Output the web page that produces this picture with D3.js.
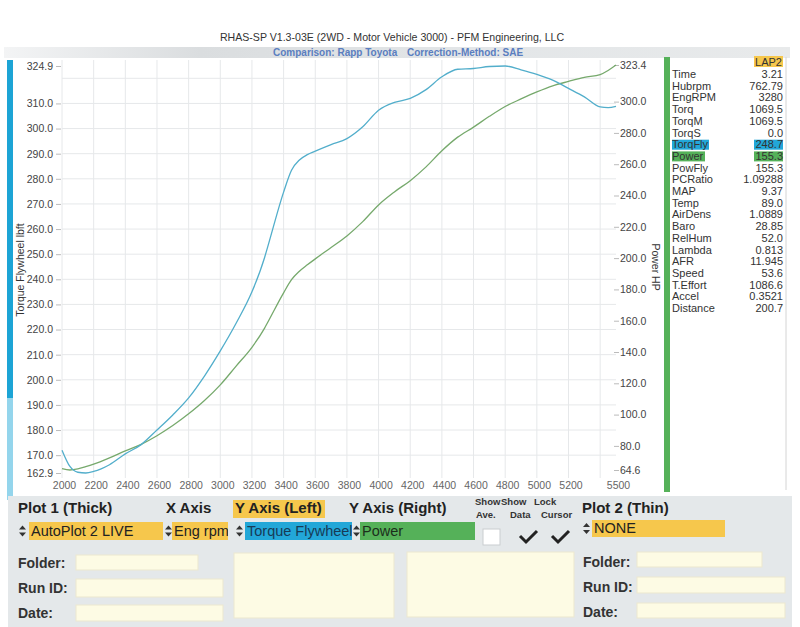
<!DOCTYPE html>
<html><head><meta charset="utf-8">
<script src="https://cdn.jsdelivr.net/npm/d3@7"></script>
<style>
body{margin:0;background:#fff;}
svg{display:block;font-family:"Liberation Sans",Arial,sans-serif;}
</style>
</head><body>
<svg id="c" width="800" height="627"></svg>
<script>
// ---- data ----
const rpm    = [2000,2050,2100,2150,2200,2300,2400,2500,2600,2700,2800,2900,3000,3100,3200,3280,3300,3400,3450,3500,3550,3600,3700,3800,3900,4000,4100,4200,4300,4400,4500,4600,4700,4800,4900,5000,5100,5200,5300,5400,5450,5500];
const torque = [172.0,165.5,163.2,162.9,163.5,166.2,170.5,174.2,180.0,186.0,192.8,201.5,211.5,222.5,235.0,248.7,253.0,274.7,283.4,287.5,289.6,291.0,293.6,296.0,300.7,307.3,310.4,312.0,315.5,320.6,323.6,323.9,324.7,324.9,323.4,321.6,319.3,316.0,312.6,308.6,308.3,308.8];
const power  = [65.5,64.6,65.3,66.7,68.3,72.3,76.8,81.0,86.5,93.0,100.5,109.0,119.0,131.0,143.0,155.3,159.0,177.8,186.2,191.6,195.7,199.5,206.8,214.2,223.3,234.0,242.3,249.5,258.3,268.6,277.3,283.7,290.6,296.9,301.7,306.2,310.1,312.9,315.5,317.3,319.9,323.4];
const xTicks     = [2000,2200,2400,2600,2800,3000,3200,3400,3600,3800,4000,4200,4400,4600,4800,5000,5200,5500];
const xGrid      = [2000,2200,2400,2600,2800,3000,3200,3400,3600,3800,4000,4200,4400,4600,4800,5000,5200,5400];
const leftTicks  = [162.9,170,180,190,200,210,220,230,240,250,260,270,280,290,300,310,324.9];
const leftGrid   = [170,180,190,200,210,220,230,240,250,260,270,280,290,300,310,320];
const rightTicks = [64.6,80,100,120,140,160,180,200,220,240,260,280,300,323.4];
const panelLabels = ["Time","Hubrpm","EngRPM","Torq","TorqM","TorqS","TorqFly","Power","PowFly","PCRatio","MAP","Temp","AirDens","Baro","RelHum","Lambda","AFR","Speed","T.Effort","Accel","Distance"];
const panelValues = ["3.21","762.79","3280","1069.5","1069.5","0.0","248.7","155.3","155.3","1.09288","9.37","89.0","1.0889","28.85","52.0","0.813","11.945","53.6","1086.6","0.3521","200.7"];

const svg = d3.select("#c");
const BLUE="#22a7d8", GREEN="#55b159", YEL="#f6c74c";

// scales
const x  = d3.scaleLinear().domain([2000,5500]).range([62,616]);
const yL = d3.scaleLinear().domain([162.9,324.9]).range([473,66]);
const yR = d3.scaleLinear().domain([64.6,323.4]).range([470,65]);

// header band
const defs = svg.append("defs");
const g1 = defs.append("linearGradient").attr("id","band");
g1.append("stop").attr("offset","0").attr("stop-color","#f3f4f5");
g1.append("stop").attr("offset","0.25").attr("stop-color","#dadddf");
g1.append("stop").attr("offset","0.6").attr("stop-color","#e3e6e8");
g1.append("stop").attr("offset","1").attr("stop-color","#e8eaeb");
svg.append("rect").attr("x",4).attr("y",47).attr("width",786).attr("height",11).attr("fill","url(#band)");

svg.append("text").attr("x",392).attr("y",41).attr("text-anchor","middle")
  .attr("font-size","10.6px").attr("fill","#333")
  .text("RHAS-SP V1.3-03E  (2WD - Motor Vehicle 3000) - PFM Engineering, LLC");
svg.append("text").attr("x",273).attr("y",55.5).attr("font-size","10px").attr("font-weight","bold").attr("fill","#5a7ec0").text("Comparison: Rapp Toyota");
svg.append("text").attr("x",407).attr("y",55.5).attr("font-size","10px").attr("font-weight","bold").attr("fill","#5a7ec0").text("Correction-Method: SAE");

// side bars
svg.append("rect").attr("x",7).attr("y",60).attr("width",6).attr("height",338).attr("fill","#1ca4d5");
svg.append("rect").attr("x",7).attr("y",398).attr("width",6).attr("height",102).attr("fill","#94d5ec");
svg.append("rect").attr("x",664).attr("y",57).attr("width",6).attr("height",435).attr("fill",GREEN);
svg.append("line").attr("x1",786).attr("x2",786).attr("y1",57).attr("y2",490).attr("stroke","#d4d4d4");

// grid
const grid = svg.append("g").attr("stroke","#e6e8ea").attr("stroke-width",1);
grid.selectAll("line.v").data(xGrid).join("line").attr("class","v")
  .attr("x1",d=>x(d)).attr("x2",d=>x(d)).attr("y1",60).attr("y2",478);
grid.selectAll("line.h").data(leftGrid).join("line").attr("class","h")
  .attr("x1",62).attr("x2",616).attr("y1",d=>yL(d)).attr("y2",d=>yL(d));

// axes
function styleAxis(col){
  return g=>{
    g.select(".domain").remove();
    g.selectAll(".tick line").attr("stroke","#bbb");
    g.selectAll(".tick text").attr("fill",col).attr("font-size","10.5px").attr("font-family","Liberation Sans, Arial, sans-serif");
  };
}
svg.append("g").attr("transform","translate(61,0)")
  .call(d3.axisLeft(yL).tickValues(leftTicks).tickFormat(d3.format(".1f")).tickSize(5).tickPadding(3))
  .call(styleAxis("#444"));
svg.append("g").attr("transform","translate(614,0)")
  .call(d3.axisRight(yR).tickValues(rightTicks).tickFormat(d3.format(".1f")).tickSize(5).tickPadding(1))
  .call(styleAxis("#444"));
svg.append("g").attr("transform","translate(2,478)")
  .call(d3.axisBottom(x).tickValues(xTicks).tickFormat(d3.format("d")).tickSize(0).tickPadding(4))
  .call(styleAxis("#666"));

svg.append("text").attr("transform","translate(24,270) rotate(-90)").attr("text-anchor","middle")
  .attr("font-size","10.5px").attr("fill","#333").text("Torque Flywheel lbft");
svg.append("text").attr("transform","translate(652,267) rotate(90)").attr("text-anchor","middle")
  .attr("font-size","10.5px").attr("fill","#333").text("Power HP");

// curves
const lineT = d3.line().x((d,i)=>x(rpm[i])).y(d=>yL(d)).curve(d3.curveMonotoneX);
const lineP = d3.line().x((d,i)=>x(rpm[i])).y(d=>yR(d)).curve(d3.curveMonotoneX);
svg.append("path").attr("d",lineP(power)).attr("fill","none").attr("stroke","#76a96c").attr("stroke-width",1.3);
svg.append("path").attr("d",lineT(torque)).attr("fill","none").attr("stroke","#52aecb").attr("stroke-width",1.3);

// data panel
svg.append("rect").attr("x",754).attr("y",56).attr("width",29).attr("height",11).attr("fill",YEL);
svg.append("text").attr("x",782).attr("y",65.5).attr("text-anchor","end").attr("font-size","11px").attr("fill","#333").text("LAP2");
const rowY = i => 78 + i*11.7;
panelLabels.forEach((lab,i)=>{
  if(lab==="TorqFly"||lab==="Power"){
    const c = lab==="TorqFly"?BLUE:GREEN;
    svg.append("rect").attr("x",672).attr("y",rowY(i)-8.5).attr("width",lab==="TorqFly"?37:33).attr("height",10).attr("fill",c);
    svg.append("rect").attr("x",754).attr("y",rowY(i)-8.5).attr("width",29).attr("height",10).attr("fill",c);
  }
});
svg.append("g").selectAll("text").data(panelLabels).join("text")
  .attr("x",672).attr("y",(d,i)=>rowY(i)).attr("font-size","11px").attr("fill","#333").text(d=>d);
svg.append("g").selectAll("text").data(panelValues).join("text")
  .attr("x",783).attr("y",(d,i)=>rowY(i)).attr("text-anchor","end").attr("font-size","11px").attr("fill","#333").text(d=>d);

// bottom control panel
svg.append("rect").attr("x",8).attr("y",496).attr("width",784).attr("height",131).attr("fill","#e4e8ea");
svg.append("rect").attr("x",233).attr("y",500).attr("width",92).attr("height",18).attr("fill",YEL);
const hdr = [["Plot 1 (Thick)",18],["X Axis",166],["Y Axis (Left)",235],["Y Axis (Right)",349],["Plot 2 (Thin)",582]];
hdr.forEach(h=>svg.append("text").attr("x",h[1]).attr("y",513).attr("font-size","15px").attr("font-weight","bold").attr("fill","#222").text(h[0]));
[["Show",475,505],["Ave.",476,518],["Show",501,505],["Data",510,518],["Lock",534,505],["Cursor",541,518]]
  .forEach(s=>svg.append("text").attr("x",s[1]).attr("y",s[2]).attr("font-size","9.5px").attr("font-weight","bold").attr("fill","#333").text(s[0]));

function arrows(ax,cy){
  svg.append("path").attr("d",`M${ax},${cy-1.5} l3.5,-4 l3.5,4 Z M${ax},${cy+1.5} l3.5,4 l3.5,-4 Z`).attr("fill","#333");
}
const sel = [
  {ax:19, x:29, w:134, y:522, h:18, c:YEL, t:"AutoPlot 2 LIVE", tc:"#222"},
  {ax:165,x:172,w:56, y:522, h:18, c:YEL, t:"Eng rpm", tc:"#222"},
  {ax:236,x:245,w:107,y:522, h:18, c:BLUE,t:"Torque Flywheel", tc:"#173b56"},
  {ax:353,x:360,w:115,y:522, h:18, c:GREEN,t:"Power", tc:"#1c2f1c"},
  {ax:583,x:592,w:133,y:520, h:17, c:YEL, t:"NONE", tc:"#222"}
];
sel.forEach((s,i)=>{
  arrows(s.ax, s.y+s.h/2);
  svg.append("rect").attr("x",s.x).attr("y",s.y).attr("width",s.w).attr("height",s.h).attr("fill",s.c);
  defs.append("clipPath").attr("id","cp"+i).append("rect").attr("x",s.x).attr("y",s.y).attr("width",s.w).attr("height",s.h);
  svg.append("text").attr("clip-path",`url(#cp${i})`).attr("x",s.x+2).attr("y",s.y+s.h-4)
    .attr("font-size","14.5px").attr("fill",s.tc).text(s.t);
});
// checkboxes
svg.append("rect").attr("x",483).attr("y",529).attr("width",17).attr("height",16).attr("fill","#fff").attr("stroke","#c9cdd0");
[520,552].forEach(cx=>{
  svg.append("path").attr("d",`M${cx},${536} l6,6 l11,-11`).attr("fill","none").attr("stroke","#222").attr("stroke-width",3);
});

// text fields
const boxes = [[76,555,122,15],[76,579,147,18],[76,605,147,16],[234,553,160,65],[407,552,167,65],[637,552,125,15],[637,577,148,16],[637,603,148,15]];
svg.append("g").selectAll("rect").data(boxes).join("rect")
  .attr("x",d=>d[0]).attr("y",d=>d[1]).attr("width",d=>d[2]).attr("height",d=>d[3])
  .attr("fill","#fdfbe4").attr("stroke","#ebe7cf");
[["Folder:",18,568],["Run ID:",18,593],["Date:",18,618],["Folder:",583,567],["Run ID:",583,592],["Date:",583,617]]
  .forEach(f=>svg.append("text").attr("x",f[1]).attr("y",f[2]).attr("font-size","14px").attr("font-weight","bold").attr("fill","#333").text(f[0]));
</script>
</body></html>
